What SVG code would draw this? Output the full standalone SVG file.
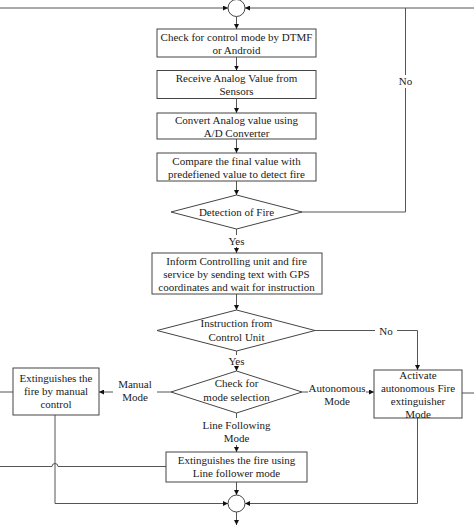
<svg xmlns="http://www.w3.org/2000/svg" width="474" height="526" viewBox="0 0 474 526">
<style>
.n{fill:#fff;stroke:#444;stroke-width:1}
.t{font-family:"Liberation Serif","Times New Roman",serif;font-size:11px;fill:#1a1a1a;text-anchor:middle}
.e{fill:none;stroke:#555;stroke-width:1}
.a{marker-end:url(#ah)}
.bg{fill:#fff}
</style>
<defs>
<marker id="ah" viewBox="0 0 10 10" refX="10" refY="5" markerWidth="5" markerHeight="5" orient="auto" markerUnits="userSpaceOnUse">
<path d="M0,0 L10,5 L0,10 z" fill="#111"/>
</marker>
</defs>
<rect width="474" height="526" fill="#fff"/>
<g id="connectors">
<path class="e a" d="M0,8 H228"/>
<path class="e a" d="M474,8 H245"/>
<path class="e" d="M301.5,212 H405.5 V8"/>
<path class="e a" d="M236.5,16.5 V29"/>
<path class="e a" d="M236.5,57 V70.5"/>
<path class="e a" d="M236.5,98.5 V113"/>
<path class="e a" d="M236.5,139 V153"/>
<path class="e a" d="M236.5,181 V195"/>
<path class="e a" d="M236.5,229 V253"/>
<path class="e a" d="M236.5,294 V310"/>
<path class="e a" d="M314.5,330.5 H417.5 V370"/>
<path class="e a" d="M236.5,351 V371"/>
<path class="e a" d="M171,392 H99"/>
<path class="e a" d="M302,392 H374"/>
<path class="e a" d="M236.5,413 V452"/>
<path class="e" d="M13,392 H0"/>
<path class="e" d="M462,393 H474"/>
<path class="e" d="M166,466.5 H58 A3,3 0 0 0 52,466.5 H0"/>
<path class="e a" d="M55,415 V503.5 H228"/>
<path class="e a" d="M417.5,418 V503.5 H245"/>
<path class="e a" d="M236.5,482 V495"/>
<path class="e a" d="M236.5,512 V525"/>
<rect class="bg" x="396" y="75" width="19" height="13"/>
<text class="t" x="405.5" y="85">No</text>
<rect class="bg" x="226" y="235" width="21" height="12"/>
<text class="t" x="236.5" y="245">Yes</text>
<rect class="bg" x="375" y="325" width="22" height="11"/>
<text class="t" x="386" y="334.5">No</text>
<rect class="bg" x="226" y="355" width="21" height="11"/>
<text class="t" x="236.5" y="364.5">Yes</text>
<rect class="bg" x="113" y="378" width="44" height="26"/>
<text class="t" x="135" y="388">Manual</text>
<text class="t" x="135" y="401">Mode</text>
<rect class="bg" x="308" y="382" width="58" height="26"/>
<text class="t" x="337" y="391.5">Autonomous</text>
<text class="t" x="337" y="405">Mode</text>
<rect class="bg" x="196" y="418" width="81" height="27"/>
<text class="t" x="236.5" y="429">Line Following</text>
<text class="t" x="236.5" y="442">Mode</text>
</g>
<g id="start">
<circle class="n" cx="236.5" cy="8" r="8.5"/>
</g>
<g id="check-mode">
<rect class="n" x="157" y="29" width="159" height="28"/>
<text class="t" x="236.5" y="41">Check for control mode by DTMF</text>
<text class="t" x="236.5" y="54">or Android</text>
</g>
<g id="receive">
<rect class="n" x="157" y="70.5" width="159" height="28"/>
<text class="t" x="236.5" y="82">Receive Analog Value from</text>
<text class="t" x="236.5" y="95">Sensors</text>
</g>
<g id="convert">
<rect class="n" x="157" y="113" width="159" height="26"/>
<text class="t" x="236.5" y="123.5">Convert Analog value using</text>
<text class="t" x="236.5" y="136.5">A/D Converter</text>
</g>
<g id="compare">
<rect class="n" x="157" y="153" width="159" height="28"/>
<text class="t" x="236.5" y="164.5">Compare the final value with</text>
<text class="t" x="236.5" y="177.5">predefiened value to detect fire</text>
</g>
<g id="detection">
<polygon class="n" points="171,212 236.5,195 302,212 236.5,229"/>
<text class="t" x="236.5" y="216">Detection of Fire</text>
</g>
<g id="inform">
<rect class="n" x="152" y="253" width="170" height="41"/>
<text class="t" x="236.5" y="264.5">Inform Controlling unit and fire</text>
<text class="t" x="236.5" y="277.5">service by sending text with GPS</text>
<text class="t" x="236.5" y="290.5">coordinates and wait for instruction</text>
</g>
<g id="instruction">
<polygon class="n" points="157,330.5 236.5,310 315,330.5 236.5,351"/>
<text class="t" x="236.5" y="327">Instruction from</text>
<text class="t" x="236.5" y="341">Control Unit</text>
</g>
<g id="mode-select">
<polygon class="n" points="171,392 236.5,371 302,392 236.5,413"/>
<text class="t" x="236.5" y="387">Check for</text>
<text class="t" x="236.5" y="400.5">mode selection</text>
</g>
<g id="manual">
<rect class="n" x="13" y="368" width="86" height="47"/>
<text class="t" x="56" y="381.5">Extinguishes the</text>
<text class="t" x="56" y="394.5">fire by manual</text>
<text class="t" x="56" y="407.5">control</text>
</g>
<g id="autonomous">
<rect class="n" x="374" y="370" width="88" height="48"/>
<text class="t" x="418" y="379">Activate</text>
<text class="t" x="418" y="391.5">autonomous Fire</text>
<text class="t" x="418" y="404.5">extinguisher</text>
<text class="t" x="418" y="418">Mode</text>
</g>
<g id="line-follower">
<rect class="n" x="166" y="452" width="141" height="30"/>
<text class="t" x="236.5" y="464">Extinguishes the fire using</text>
<text class="t" x="236.5" y="477">Line follower mode</text>
</g>
<g id="end">
<circle class="n" cx="236.5" cy="503.5" r="8.5"/>
</g>
</svg>
